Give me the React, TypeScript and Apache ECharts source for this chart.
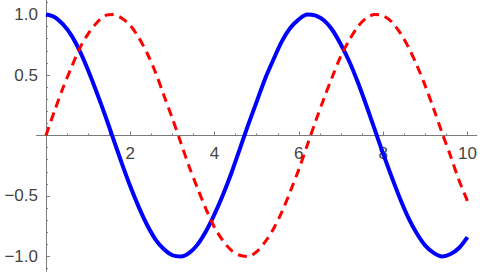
import React, { useEffect, useRef } from "react";
import * as echarts from "echarts";

// x sample positions (step 0.2 from 0 to 10)
const xs: number[] = [
  0, 0.2, 0.4, 0.6, 0.8, 1.0, 1.2, 1.4, 1.6, 1.8, 2.0, 2.2, 2.4, 2.6, 2.8, 3.0, 3.2, 3.4, 3.6, 3.8,
  4.0, 4.2, 4.4, 4.6, 4.8, 5.0, 5.2, 5.4, 5.6, 5.8, 6.0, 6.2, 6.4, 6.6, 6.8, 7.0, 7.2, 7.4, 7.6, 7.8,
  8.0, 8.2, 8.4, 8.6, 8.8, 9.0, 9.2, 9.4, 9.6, 9.8, 10.0,
];

// blue solid curve values
const blueValues: number[] = [
  1.0, 0.98, 0.92, 0.83, 0.7, 0.54, 0.36, 0.17, -0.03, -0.23, -0.42, -0.59, -0.74, -0.86, -0.94, -0.99, -1.0, -0.97, -0.9, -0.79,
  -0.65, -0.49, -0.31, -0.11, 0.09, 0.28, 0.47, 0.63, 0.78, 0.89, 0.96, 1.0, 0.99, 0.95, 0.87, 0.75, 0.61, 0.44, 0.25, 0.05,
  -0.15, -0.34, -0.52, -0.68, -0.81, -0.91, -0.97, -1.0, -0.98, -0.93, -0.84,
];

// red dashed curve values
const redValues: number[] = [
  0.0, 0.2, 0.39, 0.56, 0.72, 0.84, 0.93, 0.99, 1.0, 0.97, 0.91, 0.81, 0.68, 0.52, 0.33, 0.14, -0.06, -0.26, -0.44, -0.61,
  -0.76, -0.87, -0.95, -0.99, -1.0, -0.96, -0.88, -0.77, -0.63, -0.46, -0.28, -0.08, 0.12, 0.31, 0.49, 0.66, 0.79, 0.9, 0.97, 1.0,
  0.99, 0.94, 0.85, 0.73, 0.58, 0.41, 0.22, 0.02, -0.17, -0.37, -0.54,
];

// tick labels
const xTickLabels: number[] = [2, 4, 6, 8, 10];
const xMinorTicks: number[] = [
  0.5, 1, 1.5, 2.5, 3, 3.5, 4.5, 5, 5.5, 6.5, 7, 7.5, 8.5, 9, 9.5,
];
const yTickLabels: number[] = [-1.0, -0.5, 0.5, 1.0];
const yMinorTicks: number[] = [
  -1.1, -0.9, -0.8, -0.7, -0.6, -0.4, -0.3, -0.2, -0.1, 0.1, 0.2, 0.3, 0.4, 0.6, 0.7, 0.8, 0.9, 1.1,
];

const AXIS_COLOR = "#7a7a7a";
const TEXT_COLOR = "#444444";
const FONT = "'Liberation Sans', Arial, sans-serif";

export default function App() {
  const ref = useRef<HTMLDivElement>(null);

  useEffect(() => {
    if (!ref.current) return;
    const chart = echarts.init(ref.current, null, { renderer: "svg" });

    const X_MIN = -0.22;
    const X_MAX = 10.22;
    const Y_MIN = -1.12;
    const Y_MAX = 1.12;
    const G_LEFT = 36.7;
    const G_TOP = 0;
    const G_W = 440;
    const G_H = 271;
    // shift the axes inward so that they cross at the origin
    const yAxisShift = -((0 - X_MIN) / (X_MAX - X_MIN)) * G_W;
    const xAxisShift = -((0 - Y_MIN) / (Y_MAX - Y_MIN)) * G_H;

    const baseX = (major: boolean) => ({
      type: "value" as const,
      min: X_MIN,
      max: X_MAX,
      position: "bottom" as const,
      offset: xAxisShift,
      axisLine: {
        show: true,
        onZero: false,
        lineStyle: { color: AXIS_COLOR, width: 1 },
      },
      axisTick: {
        show: true,
        inside: true,
        length: major ? 4 : 2,
        customValues: major ? xTickLabels : xMinorTicks,
        lineStyle: { color: AXIS_COLOR, width: 1 },
      },
      axisLabel: major
        ? {
            show: true,
            customValues: xTickLabels,
            fontSize: 17,
            fontFamily: FONT,
            color: TEXT_COLOR,
            margin: 9,
            formatter: (v: number) => String(v),
          }
        : { show: false },
      splitLine: { show: false },
    });

    const baseY = (major: boolean) => ({
      type: "value" as const,
      min: Y_MIN,
      max: Y_MAX,
      position: "left" as const,
      offset: yAxisShift,
      axisLine: {
        show: true,
        onZero: false,
        lineStyle: { color: AXIS_COLOR, width: 1 },
      },
      axisTick: {
        show: true,
        inside: true,
        length: major ? 4 : 2,
        customValues: major ? yTickLabels : yMinorTicks,
        lineStyle: { color: AXIS_COLOR, width: 1 },
      },
      axisLabel: major
        ? {
            show: true,
            customValues: yTickLabels,
            fontSize: 17,
            fontFamily: FONT,
            color: TEXT_COLOR,
            margin: 8,
            formatter: (v: number) => v.toFixed(1).replace("-", "\u2212"),
          }
        : { show: false },
      splitLine: { show: false },
    });

    chart.setOption({
      animation: false,
      backgroundColor: "#ffffff",
      grid: {
        left: G_LEFT,
        top: G_TOP,
        width: G_W,
        height: G_H,
        containLabel: false,
        outerBoundsMode: "none",
      },
      xAxis: [baseX(true), baseX(false)],
      yAxis: [baseY(true), baseY(false)],
      series: [
        {
          type: "line",
          xAxisIndex: 0,
          yAxisIndex: 0,
          data: xs.map((x, i) => [x, blueValues[i]]),
          showSymbol: false,
          smooth: 0.3,
          lineStyle: { color: "#0000ff", width: 4 },
          z: 2,
        },
        {
          type: "line",
          xAxisIndex: 0,
          yAxisIndex: 0,
          data: xs.map((x, i) => [x, redValues[i]]),
          showSymbol: false,
          smooth: 0.3,
          lineStyle: { color: "#ff0000", width: 3, type: [9, 6], cap: "butt" },
          z: 3,
        },
      ],
    });

    return () => chart.dispose();
  }, []);

  return (
    <div
      ref={ref}
      style={{ position: "fixed", left: 0, top: 0, width: 480, height: 276, background: "#fff" }}
    />
  );
}
